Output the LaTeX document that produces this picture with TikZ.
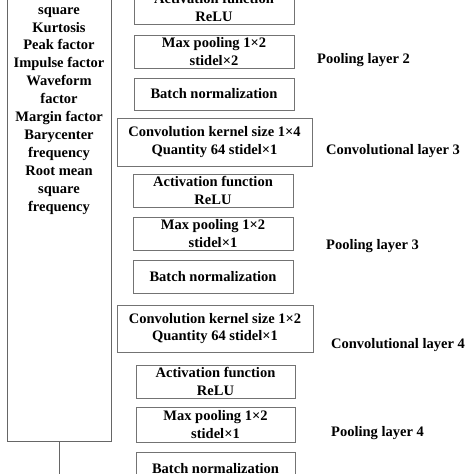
\documentclass[tikz,border=0pt]{standalone}
\usepackage{fontspec}
\setmainfont{Liberation Serif}
\begin{document}
\begin{tikzpicture}[x=1pt,y=-1pt,
  font=\fontsize{14.5}{17.5}\selectfont\bfseries,
  box/.style={draw=black!55, line width=0.8pt, inner sep=0pt, align=center},
  lbl/.style={anchor=west, inner sep=0pt}]
\useasboundingbox (0,0) rectangle (474,474);
\clip (0,0) rectangle (474,474);
\fill[white] (0,0) rectangle (474,474);
% left feature box
\node[draw=black!60, line width=0.8pt, minimum width=104pt, minimum height=500pt, anchor=south, inner sep=0pt] (feat) at (59,442) {};
\node[anchor=base, align=center, inner sep=0pt, font=\fontsize{14.5}{17.9}\selectfont\bfseries] (feattext) at (59,211)
  {square\\Kurtosis\\Peak factor\\Impulse factor\\Waveform\\factor\\Margin factor\\Barycenter\\frequency\\Root mean\\square\\frequency};
\coordinate (featout) at (59,480);
\draw[black!60, line width=0.8pt] (feat.south) -- (featout);
% right column
\node[box, minimum width=160pt, minimum height=33pt] (b1) at (214,7.5) {Activation function\\ReLU};
\node[box, minimum width=160pt, minimum height=33pt] (b2) at (214,51.5) {Max pooling 1×2\\stidel×2};
\node[box, minimum width=160pt, minimum height=32pt] (b3) at (214,94) {Batch normalization};
\node[box, minimum width=195pt, minimum height=48pt] (b4) at (214.5,142) {Convolution kernel size 1×4\\Quantity 64 stidel×1};
\node[box, minimum width=160pt, minimum height=33pt] (b5) at (213,190.5) {Activation function\\ReLU};
\node[box, minimum width=160pt, minimum height=33pt] (b6) at (213,233.5) {Max pooling 1×2\\stidel×1};
\node[box, minimum width=160pt, minimum height=33pt] (b7) at (213,276.5) {Batch normalization};
\node[box, minimum width=196pt, minimum height=47pt] (b8) at (215,328.5) {Convolution kernel size 1×2\\Quantity 64 stidel×1};
\node[box, minimum width=159pt, minimum height=33pt] (b9) at (215.5,381.5) {Activation function\\ReLU};
\node[box, minimum width=159pt, minimum height=35pt] (b10) at (215.5,424.5) {Max pooling 1×2\\stidel×1};
\node[box, minimum width=159pt, minimum height=33pt] (b11) at (215.5,468.5) {Batch normalization};
% layer labels
\node[lbl] (l1) at (317,60) {Pooling layer 2};
\node[lbl] (l2) at (326,151) {Convolutional layer 3};
\node[lbl] (l3) at (326,246) {Pooling layer 3};
\node[lbl] (l4) at (331,345) {Convolutional layer 4};
\node[lbl] (l5) at (331,433) {Pooling layer 4};
\end{tikzpicture}
\end{document}
